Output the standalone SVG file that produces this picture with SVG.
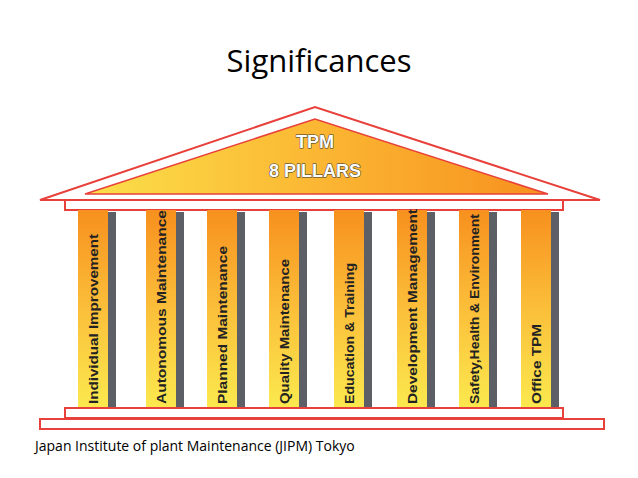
<svg xmlns="http://www.w3.org/2000/svg" width="638" height="478" viewBox="0 0 638 478">
<defs>
<linearGradient id="roof" x1="0" y1="0" x2="1" y2="0"><stop offset="0" stop-color="#fbe04a"/><stop offset="0.5" stop-color="#fbb733"/><stop offset="1" stop-color="#f7901e"/></linearGradient>
<linearGradient id="pil" x1="0" y1="0" x2="0" y2="1"><stop offset="0" stop-color="#f7901e"/><stop offset="0.5" stop-color="#fbbf3a"/><stop offset="1" stop-color="#fbe94e"/></linearGradient>
</defs>
<style>
.ln{fill:#fff;stroke:#e8403a;stroke-width:2}
.sh{fill:#5d5f66}
.pt{font-family:"Liberation Sans",Arial,sans-serif;font-weight:bold;font-size:13px;fill:#222}
.tp{font-family:"Liberation Sans",Arial,sans-serif;font-weight:bold;font-size:18px;fill:#fff;stroke:#333;stroke-width:1;paint-order:stroke}
</style>
<rect width="638" height="478" fill="#fff"/>
<text x="319" y="72" text-anchor="middle" font-family="Open Sans,Liberation Sans,sans-serif" font-size="31" fill="#000">Significances</text>
<g id="roof-g">
<polygon class="ln" points="40,200 315,107 600,200"/>
<polygon points="85,194 315,119 548,194" fill="url(#roof)" stroke="#e8403a" stroke-width="1.5"/>
<text class="tp" x="315" y="148" text-anchor="middle">TPM</text>
<text class="tp" x="315" y="177" text-anchor="middle">8 PILLARS</text>
</g>
<rect class="ln" x="65" y="200" width="498" height="10"/>
<g id="p1"><rect x="78" y="210" width="30" height="198" fill="url(#pil)"/><rect class="sh" x="108" y="212" width="8" height="196"/><text class="pt" transform="translate(98,404) rotate(-90)" textLength="170" lengthAdjust="spacingAndGlyphs">Individual Improvement</text></g>
<g id="p2"><rect x="146" y="210" width="30" height="198" fill="url(#pil)"/><rect class="sh" x="176" y="212" width="8" height="196"/><text class="pt" transform="translate(166,404) rotate(-90)" textLength="194" lengthAdjust="spacingAndGlyphs">Autonomous Maintenance</text></g>
<g id="p3"><rect x="207" y="210" width="30" height="198" fill="url(#pil)"/><rect class="sh" x="237" y="212" width="8" height="196"/><text class="pt" transform="translate(227,404) rotate(-90)" textLength="158" lengthAdjust="spacingAndGlyphs">Planned Maintenance</text></g>
<g id="p4"><rect x="269" y="210" width="30" height="198" fill="url(#pil)"/><rect class="sh" x="299" y="212" width="8" height="196"/><text class="pt" transform="translate(289,404) rotate(-90)" textLength="145" lengthAdjust="spacingAndGlyphs">Quality Maintenance</text></g>
<g id="p5"><rect x="334" y="210" width="30" height="198" fill="url(#pil)"/><rect class="sh" x="364" y="212" width="8" height="196"/><text class="pt" transform="translate(354,404) rotate(-90)" textLength="141" lengthAdjust="spacingAndGlyphs">Education &amp; Training</text></g>
<g id="p6"><rect x="397" y="210" width="30" height="198" fill="url(#pil)"/><rect class="sh" x="427" y="212" width="8" height="196"/><text class="pt" transform="translate(417,404) rotate(-90)" textLength="195" lengthAdjust="spacingAndGlyphs">Development Management</text></g>
<g id="p7"><rect x="459" y="210" width="30" height="198" fill="url(#pil)"/><rect class="sh" x="489" y="212" width="8" height="196"/><text class="pt" transform="translate(479,404) rotate(-90)" textLength="190" lengthAdjust="spacingAndGlyphs">Safety,Health &amp; Environment</text></g>
<g id="p8"><rect x="521" y="210" width="30" height="198" fill="url(#pil)"/><rect class="sh" x="551" y="212" width="8" height="196"/><text class="pt" transform="translate(541,404) rotate(-90)" textLength="80" lengthAdjust="spacingAndGlyphs">Office TPM</text></g>
<rect class="ln" x="65" y="408" width="498" height="10"/>
<rect class="ln" x="40" y="419" width="564" height="10"/>
<text x="35" y="451" font-family="Open Sans,Liberation Sans,sans-serif" font-size="14" fill="#000">Japan Institute of plant Maintenance (JIPM) Tokyo</text>
</svg>
